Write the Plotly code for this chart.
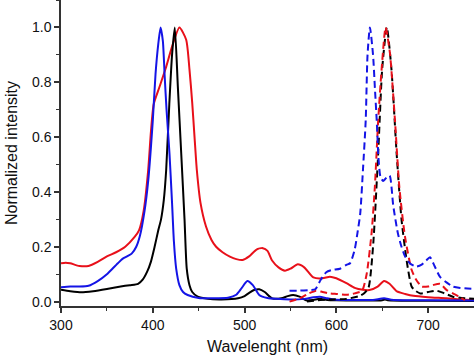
import plotly.graph_objects as go

# Solid spectra
red_x = [300, 305, 310, 320, 330, 340, 350, 360, 370, 380, 385, 390, 395, 398, 401, 407, 414, 421, 429, 436.4,
         440, 443, 445.5, 448, 452, 458, 464, 469, 476, 484, 491, 498, 505, 513, 520, 525, 530, 537, 544, 550, 558,
         565, 575, 585, 593, 600, 611, 620, 629, 636, 645, 652, 658, 666, 675, 684, 700, 720, 735, 750]
red_y = [0.14, 0.142, 0.14, 0.13, 0.13, 0.145, 0.165, 0.18, 0.2, 0.235, 0.26, 0.33, 0.48, 0.62, 0.72, 0.78, 0.85, 0.93, 1.0, 0.955,
         0.846, 0.724, 0.6, 0.48, 0.36, 0.274, 0.225, 0.2, 0.18, 0.164, 0.155, 0.152, 0.165, 0.19, 0.195, 0.185, 0.15, 0.125, 0.113, 0.12, 0.136,
         0.125, 0.088, 0.085, 0.091, 0.085, 0.067, 0.05, 0.043, 0.042, 0.055, 0.075, 0.065, 0.037, 0.028, 0.021, 0.016, 0.012, 0.008, 0.006]

blue_x = [300, 310, 320, 330, 340, 350, 356, 362, 367, 372, 377, 382, 386, 391, 395, 400, 403, 406, 408.5, 411,
          413, 415, 418.2, 421, 423, 425.5, 429, 433, 438, 450, 465, 482, 491, 497, 503, 509, 516, 525, 535, 550,
          565, 575, 582, 590, 600, 620, 640, 652, 660, 680, 700, 750]
blue_y = [0.052, 0.055, 0.055, 0.058, 0.075, 0.1, 0.12, 0.14, 0.156, 0.165, 0.175, 0.2, 0.24, 0.33, 0.44, 0.66, 0.83, 0.94, 1.0, 0.95,
          0.82, 0.7, 0.54, 0.36, 0.22, 0.12, 0.06, 0.035, 0.024, 0.013, 0.012, 0.014, 0.025, 0.05, 0.075, 0.06, 0.024, 0.013, 0.01, 0.008,
          0.01, 0.016, 0.018, 0.012, 0.007, 0.006, 0.006, 0.012, 0.007, 0.005, 0.005, 0.004]

black_x = [300, 310, 322, 335, 350, 365, 375, 384, 389, 394, 398, 402, 406, 409, 412, 414.6, 418, 421, 424, 427.3,
           431, 434.6, 437, 440, 443, 449, 460, 475, 493, 500, 505, 511, 516, 522, 530, 540, 547, 553, 560,
           568, 575, 582, 590, 600, 650, 653, 656, 700, 750]
black_y = [0.043, 0.038, 0.034, 0.038, 0.046, 0.055, 0.06, 0.065, 0.08, 0.11, 0.146, 0.2, 0.26, 0.3, 0.37, 0.48, 0.72, 0.9, 1.0, 0.785,
           0.54, 0.3, 0.12, 0.06, 0.035, 0.018, 0.01, 0.008, 0.012, 0.02, 0.032, 0.043, 0.045, 0.035, 0.012, 0.012, 0.02, 0.024, 0.018,
           0.004, 0.006, 0.01, 0.006, 0.005, 0.005, 0.008, 0.005, 0.003, 0.002]

# Dashed spectra
blue_d_x = [549, 560, 570, 577, 583, 589, 595, 604, 611, 615, 620, 623, 626, 629, 632, 634, 636.6, 640, 642, 644,
            646, 648, 651, 654, 658, 662, 667, 671, 675, 680, 687, 693, 698, 702, 707, 713, 720, 727, 735, 750]
blue_d_y = [0.04, 0.04, 0.042, 0.045, 0.08, 0.107, 0.115, 0.12, 0.134, 0.14, 0.19, 0.25, 0.32, 0.48, 0.66, 0.9, 1.0, 0.9, 0.78, 0.66,
            0.52, 0.456, 0.44, 0.45, 0.46, 0.35, 0.25, 0.2, 0.164, 0.14, 0.128, 0.135, 0.15, 0.162, 0.13, 0.09, 0.07, 0.055, 0.05, 0.046]

red_d_x = [549, 560, 570, 578, 585, 593, 600, 611, 620, 628, 633, 638.4, 642, 645.6, 649.3, 653.7, 658.4, 663.9, 668.6, 674.8,
           682, 687, 693, 700, 705, 713, 720, 727, 734, 740]
red_d_y = [0.0, 0.012, 0.03, 0.04, 0.035, 0.03, 0.028, 0.025, 0.03, 0.04, 0.1, 0.25, 0.42, 0.66, 0.846, 1.0, 0.906, 0.66, 0.42, 0.237,
           0.116, 0.08, 0.055, 0.055, 0.06, 0.065, 0.043, 0.03, 0.018, 0.005]

black_d_x = [568, 580, 595, 611, 625, 630, 635, 640, 645.6, 650, 655, 660, 665.7, 671, 676.6, 682, 686, 691.5, 700, 709,
             718, 727, 740, 750]
black_d_y = [0.0, 0.005, 0.008, 0.01, 0.02, 0.03, 0.05, 0.2, 0.54, 0.85, 1.0, 0.85, 0.54, 0.3, 0.15, 0.055, 0.04, 0.03, 0.035, 0.04,
             0.03, 0.018, 0.012, 0.01]

x_ticks = [300, 400, 500, 600, 700]
y_ticks = [0.0, 0.2, 0.4, 0.6, 0.8, 1.0]

RED = "#e8101a"
BLUE = "#1414e6"
BLACK = "#000000"
DASH = "7px,4px"

fig = go.Figure()
series = [
    (red_x, red_y, RED, "solid"),
    (black_x, black_y, BLACK, "solid"),
    (blue_x, blue_y, BLUE, "solid"),
    (black_d_x, black_d_y, BLACK, DASH),
    (red_d_x, red_d_y, RED, DASH),
    (blue_d_x, blue_d_y, BLUE, DASH),
]
for xs, ys, col, dash in series:
    fig.add_trace(go.Scatter(x=xs, y=ys, mode="lines",
                             line=dict(color=col, width=2, dash=dash, shape="spline", smoothing=0.6),
                             showlegend=False, hoverinfo="skip"))

axis_common = dict(showline=True, linecolor="#333333", linewidth=1.5, ticks="outside", ticklen=5,
                   tickwidth=1.5, tickcolor="#333333", showgrid=False, zeroline=False, mirror=False,
                   automargin=False, tickfont=dict(size=14, color="#111111"))

fig.update_xaxes(range=[300, 750], tickvals=x_ticks,
                 minor=dict(ticks="outside", dtick=50, ticklen=3, tickwidth=1.2, tickcolor="#333333"),
                 title=dict(text="Wavelenght (nm)", font=dict(size=16, color="#111111"), standoff=9),
                 **axis_common)
fig.update_yaxes(range=[-0.016, 1.1], tickvals=y_ticks, tickformat=".1f",
                 minor=dict(ticks="outside", dtick=0.1, ticklen=3, tickwidth=1.2, tickcolor="#333333"),
                 title=dict(text="Normalized intensity", font=dict(size=16, color="#111111"), standoff=10),
                 **axis_common)

fig.update_layout(width=474, height=355, margin=dict(l=61, r=0, t=0, b=49),
                  paper_bgcolor="white", plot_bgcolor="white",
                  font=dict(family="Liberation Sans, Arial, sans-serif", color="#111111"))

fig.write_html("out.html", config={"displayModeBar": False},
               post_script="document.body.style.margin='0px';")
